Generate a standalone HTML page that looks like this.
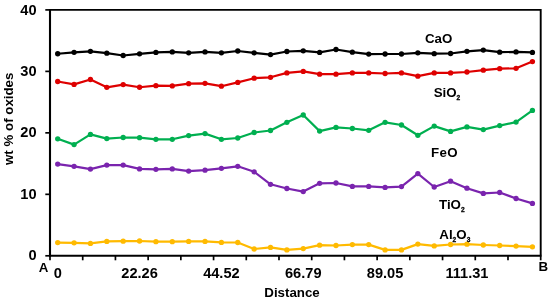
<!DOCTYPE html>
<html><head><meta charset="utf-8"><style>
html,body{margin:0;padding:0;background:#fff;width:550px;height:301px;overflow:hidden}
svg{display:block}
</style></head><body>
<svg width="550" height="301" viewBox="0 0 550 301">
<rect width="550" height="301" fill="#fff"/>
<g stroke="#000" stroke-width="1.9" fill="none">
<path d="M50.0 9.9H540.7V255.8" stroke-linejoin="miter"/>
</g>
<g stroke="#000" stroke-width="2.1" fill="none">
<line x1="50.0" y1="9.0" x2="50.0" y2="256.8"/>
<line x1="49.0" y1="255.8" x2="541.5" y2="255.8"/>
</g>
<g stroke="#000" stroke-width="1.7" fill="none">
<line x1="45.3" y1="255.80" x2="50.0" y2="255.80"/>
<line x1="45.3" y1="194.33" x2="50.0" y2="194.33"/>
<line x1="45.3" y1="132.85" x2="50.0" y2="132.85"/>
<line x1="45.3" y1="71.38" x2="50.0" y2="71.38"/>
<line x1="45.3" y1="9.90" x2="50.0" y2="9.90"/>
<line x1="50.00" y1="255.8" x2="50.00" y2="260.3"/>
<line x1="82.71" y1="255.8" x2="82.71" y2="260.3"/>
<line x1="115.43" y1="255.8" x2="115.43" y2="260.3"/>
<line x1="148.14" y1="255.8" x2="148.14" y2="260.3"/>
<line x1="180.85" y1="255.8" x2="180.85" y2="260.3"/>
<line x1="213.57" y1="255.8" x2="213.57" y2="260.3"/>
<line x1="246.28" y1="255.8" x2="246.28" y2="260.3"/>
<line x1="278.99" y1="255.8" x2="278.99" y2="260.3"/>
<line x1="311.71" y1="255.8" x2="311.71" y2="260.3"/>
<line x1="344.42" y1="255.8" x2="344.42" y2="260.3"/>
<line x1="377.13" y1="255.8" x2="377.13" y2="260.3"/>
<line x1="409.85" y1="255.8" x2="409.85" y2="260.3"/>
<line x1="442.56" y1="255.8" x2="442.56" y2="260.3"/>
<line x1="475.27" y1="255.8" x2="475.27" y2="260.3"/>
<line x1="507.99" y1="255.8" x2="507.99" y2="260.3"/>
<line x1="540.70" y1="255.8" x2="540.70" y2="260.3"/>
</g>
<polyline points="57.70,53.75 74.07,52.35 90.44,51.30 106.81,53.20 123.18,55.50 139.55,53.80 155.92,52.40 172.29,51.90 188.66,52.80 205.03,51.90 221.40,52.80 237.77,51.00 254.14,52.80 270.51,54.60 286.88,51.50 303.25,50.80 319.62,52.40 335.99,49.50 352.36,52.20 368.73,54.10 385.10,54.00 401.47,54.00 417.84,52.80 434.21,53.70 450.58,53.50 466.95,51.30 483.32,50.10 499.69,52.20 516.06,51.90 532.43,52.40" fill="none" stroke="#000000" stroke-width="2.2" stroke-linejoin="round" stroke-linecap="round"/>
<g fill="#000000"><circle cx="57.70" cy="53.75" r="2.65"/><circle cx="74.07" cy="52.35" r="2.65"/><circle cx="90.44" cy="51.30" r="2.65"/><circle cx="106.81" cy="53.20" r="2.65"/><circle cx="123.18" cy="55.50" r="2.65"/><circle cx="139.55" cy="53.80" r="2.65"/><circle cx="155.92" cy="52.40" r="2.65"/><circle cx="172.29" cy="51.90" r="2.65"/><circle cx="188.66" cy="52.80" r="2.65"/><circle cx="205.03" cy="51.90" r="2.65"/><circle cx="221.40" cy="52.80" r="2.65"/><circle cx="237.77" cy="51.00" r="2.65"/><circle cx="254.14" cy="52.80" r="2.65"/><circle cx="270.51" cy="54.60" r="2.65"/><circle cx="286.88" cy="51.50" r="2.65"/><circle cx="303.25" cy="50.80" r="2.65"/><circle cx="319.62" cy="52.40" r="2.65"/><circle cx="335.99" cy="49.50" r="2.65"/><circle cx="352.36" cy="52.20" r="2.65"/><circle cx="368.73" cy="54.10" r="2.65"/><circle cx="385.10" cy="54.00" r="2.65"/><circle cx="401.47" cy="54.00" r="2.65"/><circle cx="417.84" cy="52.80" r="2.65"/><circle cx="434.21" cy="53.70" r="2.65"/><circle cx="450.58" cy="53.50" r="2.65"/><circle cx="466.95" cy="51.30" r="2.65"/><circle cx="483.32" cy="50.10" r="2.65"/><circle cx="499.69" cy="52.20" r="2.65"/><circle cx="516.06" cy="51.90" r="2.65"/><circle cx="532.43" cy="52.40" r="2.65"/></g>

<polyline points="57.70,81.50 74.07,84.40 90.44,79.50 106.81,87.30 123.18,84.60 139.55,87.25 155.92,85.70 172.29,85.90 188.66,83.70 205.03,83.30 221.40,86.20 237.77,82.40 254.14,78.20 270.51,77.30 286.88,72.90 303.25,71.40 319.62,74.20 335.99,74.20 352.36,72.90 368.73,72.90 385.10,73.50 401.47,72.90 417.84,76.20 434.21,72.90 450.58,72.90 466.95,72.00 483.32,70.20 499.69,68.70 516.06,68.30 532.43,61.60" fill="none" stroke="#DE0000" stroke-width="2.2" stroke-linejoin="round" stroke-linecap="round"/>
<g fill="#DE0000"><circle cx="57.70" cy="81.50" r="2.65"/><circle cx="74.07" cy="84.40" r="2.65"/><circle cx="90.44" cy="79.50" r="2.65"/><circle cx="106.81" cy="87.30" r="2.65"/><circle cx="123.18" cy="84.60" r="2.65"/><circle cx="139.55" cy="87.25" r="2.65"/><circle cx="155.92" cy="85.70" r="2.65"/><circle cx="172.29" cy="85.90" r="2.65"/><circle cx="188.66" cy="83.70" r="2.65"/><circle cx="205.03" cy="83.30" r="2.65"/><circle cx="221.40" cy="86.20" r="2.65"/><circle cx="237.77" cy="82.40" r="2.65"/><circle cx="254.14" cy="78.20" r="2.65"/><circle cx="270.51" cy="77.30" r="2.65"/><circle cx="286.88" cy="72.90" r="2.65"/><circle cx="303.25" cy="71.40" r="2.65"/><circle cx="319.62" cy="74.20" r="2.65"/><circle cx="335.99" cy="74.20" r="2.65"/><circle cx="352.36" cy="72.90" r="2.65"/><circle cx="368.73" cy="72.90" r="2.65"/><circle cx="385.10" cy="73.50" r="2.65"/><circle cx="401.47" cy="72.90" r="2.65"/><circle cx="417.84" cy="76.20" r="2.65"/><circle cx="434.21" cy="72.90" r="2.65"/><circle cx="450.58" cy="72.90" r="2.65"/><circle cx="466.95" cy="72.00" r="2.65"/><circle cx="483.32" cy="70.20" r="2.65"/><circle cx="499.69" cy="68.70" r="2.65"/><circle cx="516.06" cy="68.30" r="2.65"/><circle cx="532.43" cy="61.60" r="2.65"/></g>

<polyline points="57.70,138.80 74.07,144.60 90.44,134.40 106.81,138.60 123.18,137.50 139.55,137.70 155.92,139.30 172.29,139.30 188.66,135.60 205.03,133.60 221.40,139.30 237.77,138.00 254.14,132.50 270.51,130.50 286.88,122.30 303.25,115.00 319.62,131.10 335.99,127.40 352.36,128.50 368.73,130.30 385.10,122.30 401.47,125.00 417.84,135.30 434.21,126.10 450.58,131.40 466.95,126.90 483.32,129.60 499.69,125.60 516.06,122.10 532.43,110.40" fill="none" stroke="#00AF50" stroke-width="2.2" stroke-linejoin="round" stroke-linecap="round"/>
<g fill="#00AF50"><circle cx="57.70" cy="138.80" r="2.65"/><circle cx="74.07" cy="144.60" r="2.65"/><circle cx="90.44" cy="134.40" r="2.65"/><circle cx="106.81" cy="138.60" r="2.65"/><circle cx="123.18" cy="137.50" r="2.65"/><circle cx="139.55" cy="137.70" r="2.65"/><circle cx="155.92" cy="139.30" r="2.65"/><circle cx="172.29" cy="139.30" r="2.65"/><circle cx="188.66" cy="135.60" r="2.65"/><circle cx="205.03" cy="133.60" r="2.65"/><circle cx="221.40" cy="139.30" r="2.65"/><circle cx="237.77" cy="138.00" r="2.65"/><circle cx="254.14" cy="132.50" r="2.65"/><circle cx="270.51" cy="130.50" r="2.65"/><circle cx="286.88" cy="122.30" r="2.65"/><circle cx="303.25" cy="115.00" r="2.65"/><circle cx="319.62" cy="131.10" r="2.65"/><circle cx="335.99" cy="127.40" r="2.65"/><circle cx="352.36" cy="128.50" r="2.65"/><circle cx="368.73" cy="130.30" r="2.65"/><circle cx="385.10" cy="122.30" r="2.65"/><circle cx="401.47" cy="125.00" r="2.65"/><circle cx="417.84" cy="135.30" r="2.65"/><circle cx="434.21" cy="126.10" r="2.65"/><circle cx="450.58" cy="131.40" r="2.65"/><circle cx="466.95" cy="126.90" r="2.65"/><circle cx="483.32" cy="129.60" r="2.65"/><circle cx="499.69" cy="125.60" r="2.65"/><circle cx="516.06" cy="122.10" r="2.65"/><circle cx="532.43" cy="110.40" r="2.65"/></g>

<polyline points="57.70,164.10 74.07,166.30 90.44,169.10 106.81,165.10 123.18,165.10 139.55,168.90 155.92,169.30 172.29,168.90 188.66,171.10 205.03,170.20 221.40,168.30 237.77,166.30 254.14,171.80 270.51,184.30 286.88,188.50 303.25,191.60 319.62,183.30 335.99,183.00 352.36,186.40 368.73,186.40 385.10,187.40 401.47,186.60 417.84,173.60 434.21,187.00 450.58,181.20 466.95,188.20 483.32,193.40 499.69,192.50 516.06,198.50 532.43,203.40" fill="none" stroke="#7A24AE" stroke-width="2.2" stroke-linejoin="round" stroke-linecap="round"/>
<g fill="#7A24AE"><circle cx="57.70" cy="164.10" r="2.65"/><circle cx="74.07" cy="166.30" r="2.65"/><circle cx="90.44" cy="169.10" r="2.65"/><circle cx="106.81" cy="165.10" r="2.65"/><circle cx="123.18" cy="165.10" r="2.65"/><circle cx="139.55" cy="168.90" r="2.65"/><circle cx="155.92" cy="169.30" r="2.65"/><circle cx="172.29" cy="168.90" r="2.65"/><circle cx="188.66" cy="171.10" r="2.65"/><circle cx="205.03" cy="170.20" r="2.65"/><circle cx="221.40" cy="168.30" r="2.65"/><circle cx="237.77" cy="166.30" r="2.65"/><circle cx="254.14" cy="171.80" r="2.65"/><circle cx="270.51" cy="184.30" r="2.65"/><circle cx="286.88" cy="188.50" r="2.65"/><circle cx="303.25" cy="191.60" r="2.65"/><circle cx="319.62" cy="183.30" r="2.65"/><circle cx="335.99" cy="183.00" r="2.65"/><circle cx="352.36" cy="186.40" r="2.65"/><circle cx="368.73" cy="186.40" r="2.65"/><circle cx="385.10" cy="187.40" r="2.65"/><circle cx="401.47" cy="186.60" r="2.65"/><circle cx="417.84" cy="173.60" r="2.65"/><circle cx="434.21" cy="187.00" r="2.65"/><circle cx="450.58" cy="181.20" r="2.65"/><circle cx="466.95" cy="188.20" r="2.65"/><circle cx="483.32" cy="193.40" r="2.65"/><circle cx="499.69" cy="192.50" r="2.65"/><circle cx="516.06" cy="198.50" r="2.65"/><circle cx="532.43" cy="203.40" r="2.65"/></g>

<polyline points="57.70,242.60 74.07,242.80 90.44,243.40 106.81,241.40 123.18,241.20 139.55,241.00 155.92,241.70 172.29,241.70 188.66,241.40 205.03,241.40 221.40,242.40 237.77,242.50 254.14,249.00 270.51,247.40 286.88,249.90 303.25,248.60 319.62,245.20 335.99,245.50 352.36,244.60 368.73,244.60 385.10,249.90 401.47,249.90 417.84,244.10 434.21,245.90 450.58,244.50 466.95,244.20 483.32,245.00 499.69,245.50 516.06,246.10 532.43,246.80" fill="none" stroke="#FFBA00" stroke-width="2.2" stroke-linejoin="round" stroke-linecap="round"/>
<g fill="#FFBA00"><circle cx="57.70" cy="242.60" r="2.65"/><circle cx="74.07" cy="242.80" r="2.65"/><circle cx="90.44" cy="243.40" r="2.65"/><circle cx="106.81" cy="241.40" r="2.65"/><circle cx="123.18" cy="241.20" r="2.65"/><circle cx="139.55" cy="241.00" r="2.65"/><circle cx="155.92" cy="241.70" r="2.65"/><circle cx="172.29" cy="241.70" r="2.65"/><circle cx="188.66" cy="241.40" r="2.65"/><circle cx="205.03" cy="241.40" r="2.65"/><circle cx="221.40" cy="242.40" r="2.65"/><circle cx="237.77" cy="242.50" r="2.65"/><circle cx="254.14" cy="249.00" r="2.65"/><circle cx="270.51" cy="247.40" r="2.65"/><circle cx="286.88" cy="249.90" r="2.65"/><circle cx="303.25" cy="248.60" r="2.65"/><circle cx="319.62" cy="245.20" r="2.65"/><circle cx="335.99" cy="245.50" r="2.65"/><circle cx="352.36" cy="244.60" r="2.65"/><circle cx="368.73" cy="244.60" r="2.65"/><circle cx="385.10" cy="249.90" r="2.65"/><circle cx="401.47" cy="249.90" r="2.65"/><circle cx="417.84" cy="244.10" r="2.65"/><circle cx="434.21" cy="245.90" r="2.65"/><circle cx="450.58" cy="244.50" r="2.65"/><circle cx="466.95" cy="244.20" r="2.65"/><circle cx="483.32" cy="245.00" r="2.65"/><circle cx="499.69" cy="245.50" r="2.65"/><circle cx="516.06" cy="246.10" r="2.65"/><circle cx="532.43" cy="246.80" r="2.65"/></g>

<text x="36.5" y="260.40" font-family="'Liberation Sans', sans-serif" font-weight="bold" font-size="14.6" text-anchor="end">0</text>
<text x="36.5" y="198.93" font-family="'Liberation Sans', sans-serif" font-weight="bold" font-size="14.6" text-anchor="end">10</text>
<text x="36.5" y="137.45" font-family="'Liberation Sans', sans-serif" font-weight="bold" font-size="14.6" text-anchor="end">20</text>
<text x="36.5" y="75.97" font-family="'Liberation Sans', sans-serif" font-weight="bold" font-size="14.6" text-anchor="end">30</text>
<text x="36.5" y="14.50" font-family="'Liberation Sans', sans-serif" font-weight="bold" font-size="14.6" text-anchor="end">40</text>
<text x="57.70" y="277.5" font-family="'Liberation Sans', sans-serif" font-weight="bold" font-size="14.6" text-anchor="middle">0</text>
<text x="139.55" y="277.5" font-family="'Liberation Sans', sans-serif" font-weight="bold" font-size="14.6" text-anchor="middle">22.26</text>
<text x="221.40" y="277.5" font-family="'Liberation Sans', sans-serif" font-weight="bold" font-size="14.6" text-anchor="middle">44.52</text>
<text x="303.25" y="277.5" font-family="'Liberation Sans', sans-serif" font-weight="bold" font-size="14.6" text-anchor="middle">66.79</text>
<text x="385.10" y="277.5" font-family="'Liberation Sans', sans-serif" font-weight="bold" font-size="14.6" text-anchor="middle">89.05</text>
<text x="466.95" y="277.5" font-family="'Liberation Sans', sans-serif" font-weight="bold" font-size="14.6" text-anchor="middle">111.31</text>
<text x="292" y="296.5" font-family="'Liberation Sans', sans-serif" font-weight="bold" font-size="13.3" text-anchor="middle">Distance</text>
<text transform="translate(13,118.8) rotate(-90)" font-family="'Liberation Sans', sans-serif" font-weight="bold" font-size="13.3" text-anchor="middle">wt % of oxides</text>
<text x="38.8" y="271.7" font-family="'Liberation Sans', sans-serif" font-weight="bold" font-size="13.3">A</text>
<text x="538.6" y="270.5" font-family="'Liberation Sans', sans-serif" font-weight="bold" font-size="13.3">B</text>
<text x="425" y="42.7" font-family="'Liberation Sans', sans-serif" font-weight="bold" font-size="13.3">CaO</text>
<text x="433.7" y="96.8" font-family="'Liberation Sans', sans-serif" font-weight="bold" font-size="13.3">SiO<tspan font-size="6.6" dy="2.8" stroke="#000" stroke-width="0.3">2</tspan></text>
<text x="431" y="157.3" font-family="'Liberation Sans', sans-serif" font-weight="bold" font-size="13.3" letter-spacing="0.35">FeO</text>
<text x="439" y="209.3" font-family="'Liberation Sans', sans-serif" font-weight="bold" font-size="13.3">TiO<tspan font-size="6.6" dy="2.8" stroke="#000" stroke-width="0.3">2</tspan></text>
<text x="439.3" y="238.8" font-family="'Liberation Sans', sans-serif" font-weight="bold" font-size="13.3">Al<tspan font-size="6.6" dy="2.8" stroke="#000" stroke-width="0.3">2</tspan><tspan dy="-2.8">O</tspan><tspan font-size="6.6" dy="2.8" stroke="#000" stroke-width="0.3">3</tspan></text>
</svg>
</body></html>
